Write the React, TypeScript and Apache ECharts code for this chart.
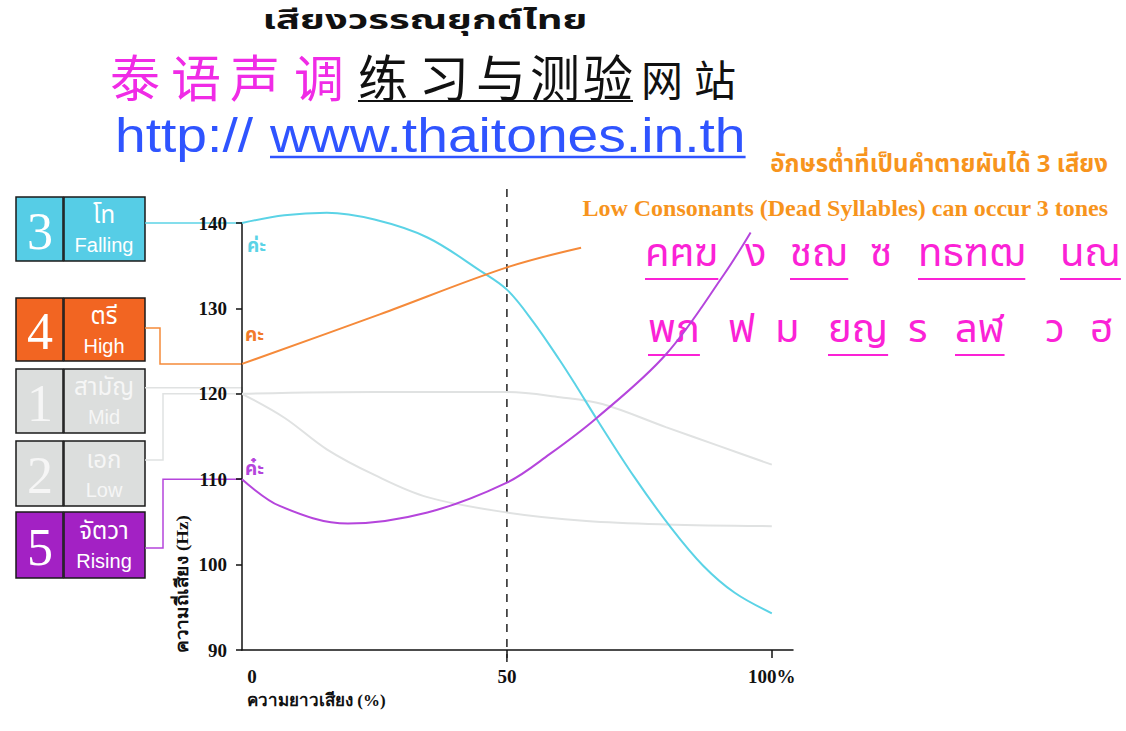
import React, { useEffect, useRef } from 'react';
import * as echarts from 'echarts';

// ---- data ----
const X_LABEL_VALUES = [0, 50, 100];
const X_LABEL_TEXTS = ['0', '50', '100%'];
const X_TICK_VALUES = [50, 100];
const Y_TICKS = [90, 100, 110, 120, 130, 140];

const FALLING = [[0, 140], [8, 140.9], [16, 141.2], [25, 140.4], [35, 138.3], [45, 134.4], [50, 132.2], [55, 128.4], [60, 123.9], [63, 121], [67, 117], [74, 110.3], [81, 104.3], [87, 99.9], [93, 96.7], [100, 94.3]];
const HIGH = [[0, 123.5], [26, 129.3], [50, 134.8], [64, 137.1]];
const MID = [[0, 120], [25, 120.2], [50, 120.2], [60, 119.6], [68, 118.8], [80, 116.1], [90, 113.9], [100, 111.7]];
const LOW = [[0, 120], [8, 117.2], [16, 113.5], [25, 110.5], [35, 107.9], [50, 106.1], [65, 105.1], [80, 104.7], [100, 104.5]];
const RISING = [[0, 110], [7, 106.9], [20, 104.8], [35, 106.1], [50, 109.6], [58, 112.9], [67, 117.2], [80, 124.6], [91, 134], [96, 138.9]];
const MIDPOINT_LINE = [[50, 88.6], [50, 144.8]];

const TONE_NUMBERS = ['3', '4', '1', '2', '5'];
const TONE_THAI = ['โท', 'ตรี', 'สามัญ', 'เอก', 'จัตวา'];
const TONE_EN = ['Falling', 'High', 'Mid', 'Low', 'Rising'];

const CURVE_LABELS = ['ค่ะ', 'คะ', 'ค๋ะ'];

const TITLE_TH = 'เสียงวรรณยุกต์ไทย';
const TITLE_CN_PINK = ['泰', '语', '声', '调'];
const TITLE_CN_BLACK = ['练', '习', '与', '测', '验'];
const TITLE_CN_TAIL = ['网', '站'];
const URL_PREFIX = 'http://';
const URL_MAIN = 'www.thaitones.in.th';
const NOTE_TH = 'อักษรต่ำที่เป็นคำตายผันได้ 3 เสียง';
const NOTE_EN = 'Low Consonants (Dead Syllables) can occur 3 tones';
const ROW1 = ['คฅฆ', 'ง', 'ชฌ', 'ซ', 'ทธฑฒ', 'นณ'];
const ROW1_UNDER = [true, false, true, false, true, true];
const ROW2 = ['พภ', 'ฟ', 'ม', 'ยญ', 'ร', 'ลฬ', 'ว', 'ฮ'];
const ROW2_UNDER = [true, false, false, true, false, true, false, false];
const X_NAME = 'ความยาวเสียง (%)';
const Y_NAME = 'ความถี่เสียง (Hz)';

// ---- styles / layout ----
const THAI = '"Noto Sans Thai","Noto Serif Thai","Loma","Garuda","Tlwg Typo","DejaVu Sans",sans-serif';
const SERIF = '"Liberation Serif","Times New Roman",serif';
const SANS = '"Liberation Sans",Arial,sans-serif';
const CJK = '"Noto Sans CJK SC",sans-serif';

const C_CYAN = '#5bd3e6';
const C_ORANGE = '#f58a3a';
const C_GREY = '#e0e2e2';
const C_PURPLE = '#b545dc';
const C_MAGENTA = '#fb22d6';

const BOX_FILL = ['#56cde6', '#f26522', '#dcdedd', '#dcdedd', '#a321c4'];
const BOX_TEXT = ['#ffffff', '#ffffff', '#f6f6f6', '#f6f6f6', '#ffffff'];
const BOX_Y = [197, 298, 369, 441, 512];
const BOX_H = [64, 63, 64, 65, 66];
const PINK_X = [110, 171, 230, 294];
const BLACK_X = [358, 419, 476, 530, 583];
const TAIL_X = [641, 694];
const ROW1_X = [645, 745, 790, 870, 918, 1060];
const ROW2_X = [648, 728, 775, 828, 908, 955, 1045, 1090];

const ctx = typeof document !== 'undefined' ? document.createElement('canvas').getContext('2d') : null;
function textW(text: string, font: string) {
  if (!ctx) return text.length * 10;
  ctx.font = font;
  return ctx.measureText(text).width;
}

function txt(text: string, x: number, y: number, font: string, fill: string, align = 'left', extra: any = {}) {
  return {
    type: 'text', x, y, silent: true, ...extra,
    style: { text, font, fill, align, textAlign: align, verticalAlign: 'middle', textVerticalAlign: 'middle' },
  };
}
function hline(x1: number, x2: number, y: number, stroke: string, w = 2) {
  return { type: 'line', silent: true, shape: { x1, y1: y, x2, y2: y }, style: { stroke, lineWidth: w } };
}

function curve(name: string, data: number[][], color: string, width = 2) {
  return {
    name, type: 'line', data, smooth: 0.35, symbol: 'none', showSymbol: false, clip: false,
    lineStyle: { color, width }, itemStyle: { color }, z: 3,
  };
}

export default function App() {
  const ref = useRef<HTMLDivElement>(null);
  useEffect(() => {
    if (!ref.current) return;
    const chart = echarts.init(ref.current, undefined, { renderer: 'svg' });
    const labelFont = { fontFamily: SERIF, fontWeight: 'bold', fontSize: 19, color: '#111' };
    chart.setOption({
      animation: false,
      grid: { left: 242, top: 223, width: 551, height: 427, containLabel: false },
      xAxis: {
        type: 'value', min: 0, max: 104, interval: 50,
        axisLine: { show: true, lineStyle: { color: '#111', width: 1.5 } },
        axisTick: { show: true, length: 8, customValues: X_TICK_VALUES, lineStyle: { color: '#111', width: 1.5 } },
        splitLine: { show: false },
        axisLabel: {
          ...labelFont, margin: 17, customValues: X_LABEL_VALUES,
          formatter: (v: number) => {
            const i = X_LABEL_VALUES.indexOf(v);
            if (i < 0) return '';
            return i === 0 ? '{z|' + X_LABEL_TEXTS[i] + '}' : X_LABEL_TEXTS[i];
          },
          rich: { z: { ...labelFont, padding: [0, 0, 0, 20] } },
        },
      },
      yAxis: {
        type: 'value', min: 90, max: 140, interval: 10,
        axisLine: { show: true, lineStyle: { color: '#111', width: 1.5 } },
        axisTick: { show: true, length: 6, lineStyle: { color: '#111', width: 1.5 } },
        splitLine: { show: false },
        axisLabel: { ...labelFont, margin: 15, customValues: Y_TICKS },
      },
      series: [
        curve('Mid', MID, C_GREY),
        curve('Low', LOW, C_GREY),
        curve('Falling', FALLING, C_CYAN),
        curve('High', HIGH, C_ORANGE),
        curve('Rising', RISING, C_PURPLE),
        {
          name: 'midpoint', type: 'line', data: MIDPOINT_LINE, symbol: 'none', clip: false, z: 2,
          lineStyle: { color: '#222', width: 1.5, type: [8, 7] },
        },
      ],
    });

    const px = (x: number, y: number) => chart.convertToPixel({ xAxisIndex: 0, yAxisIndex: 0 }, [x, y]) as number[];
    const ax = px(0, 90)[0];
    const yF = px(0, FALLING[0][1])[1];
    const yH = px(0, HIGH[0][1])[1];
    const yM = px(0, MID[0][1])[1];
    const yL = px(0, LOW[0][1])[1];
    const yR = px(0, RISING[0][1])[1];

    const g: any[] = [];
    // title
    g.push(txt(TITLE_TH, 425, 21, `bold 27px ${THAI}`, '#111', 'center', { scaleX: 1.48 }));
    const cnFont = `50px ${CJK}`;
    TITLE_CN_PINK.forEach((c, i) => g.push(txt(c, PINK_X[i], 75, cnFont, '#f02be6')));
    TITLE_CN_BLACK.forEach((c, i) => g.push(txt(c, BLACK_X[i], 75, cnFont, '#111')));
    g.push(hline(BLACK_X[0], BLACK_X[4] + textW(TITLE_CN_BLACK[4], cnFont), 101, '#111', 2));
    TITLE_CN_TAIL.forEach((c, i) => g.push(txt(c, TAIL_X[i], 77, `42px ${CJK}`, '#111')));
    const urlFont = `48px ${SANS}`;
    const urlScale = 1.15;
    g.push(txt(URL_PREFIX, 115, 135, urlFont, '#2f54ff', 'left', { scaleX: urlScale }));
    g.push(txt(URL_MAIN, 270, 135, urlFont, '#2f54ff', 'left', { scaleX: urlScale }));
    g.push(hline(270, 270 + textW(URL_MAIN, urlFont) * urlScale, 157, '#2f54ff', 2.5));
    // notes
    g.push(txt(NOTE_TH, 1108, 165, `bold 24px ${THAI}`, '#f7941d', 'right'));
    g.push(txt(NOTE_EN, 1108, 208, `bold 24px ${SERIF}`, '#f7941d', 'right'));
    const mFont = `40px ${THAI}`;
    ROW1.forEach((t, i) => {
      g.push(txt(t, ROW1_X[i], 254, mFont, C_MAGENTA));
      if (ROW1_UNDER[i]) g.push(hline(ROW1_X[i], ROW1_X[i] + textW(t, mFont), 279, C_MAGENTA, 2));
    });
    ROW2.forEach((t, i) => {
      g.push(txt(t, ROW2_X[i], 330, mFont, C_MAGENTA));
      if (ROW2_UNDER[i]) g.push(hline(ROW2_X[i], ROW2_X[i] + textW(t, mFont), 355, C_MAGENTA, 2));
    });
    // tone boxes
    TONE_NUMBERS.forEach((n, i) => {
      const y = BOX_Y[i], h = BOX_H[i];
      g.push({ type: 'rect', silent: true, shape: { x: 16, y, width: 47, height: h }, style: { fill: BOX_FILL[i], stroke: '#1a1a1a', lineWidth: 1.5 } });
      g.push({ type: 'rect', silent: true, shape: { x: 64, y, width: 81, height: h }, style: { fill: BOX_FILL[i], stroke: '#1a1a1a', lineWidth: 1.5 } });
      g.push(txt(n, 40, y + h / 2 + 2, `52px ${SERIF}`, BOX_TEXT[i], 'center'));
      g.push(txt(TONE_THAI[i], 104, y + h / 2 - 13, `24px ${THAI}`, BOX_TEXT[i], 'center'));
      g.push(txt(TONE_EN[i], 104, y + h / 2 + 16, `20px ${SANS}`, BOX_TEXT[i], 'center'));
    });
    // connectors
    const pl = (points: number[][], stroke: string) => ({ type: 'polyline', silent: true, shape: { points }, style: { stroke, lineWidth: 1.5, fill: null } });
    g.push(pl([[145, yF], [ax, yF]], C_CYAN));
    g.push(pl([[145, 328], [160, 328], [160, yH], [ax, yH]], C_ORANGE));
    g.push(pl([[145, yM - 6], [ax, yM - 6], [ax, yM]], C_GREY));
    g.push(pl([[145, 460], [163, 460], [163, yL], [ax, yL]], C_GREY));
    g.push(pl([[145, 548], [163, 548], [163, yR], [ax, yR]], C_PURPLE));
    // curve start labels
    g.push(txt(CURVE_LABELS[0], ax + 5, yF + 23, `bold 19px ${THAI}`, C_CYAN));
    g.push(txt(CURVE_LABELS[1], ax + 3, yH - 28, `bold 19px ${THAI}`, '#f27a2a'));
    g.push(txt(CURVE_LABELS[2], ax + 3, yR - 10, `bold 19px ${THAI}`, C_PURPLE));
    // axis names
    g.push(txt(X_NAME, 247, 700, `bold 17px ${SERIF}`, '#111'));
    g.push(txt(Y_NAME, 182, 584, `bold 17px ${SERIF}`, '#111', 'center', { rotation: Math.PI / 2, scaleX: 1.12 }));

    chart.setOption({ graphic: g });
    return () => chart.dispose();
  }, []);
  return <div ref={ref} style={{ position: 'fixed', left: 0, top: 0, width: 1126, height: 731, background: '#fff' }} />;
}
